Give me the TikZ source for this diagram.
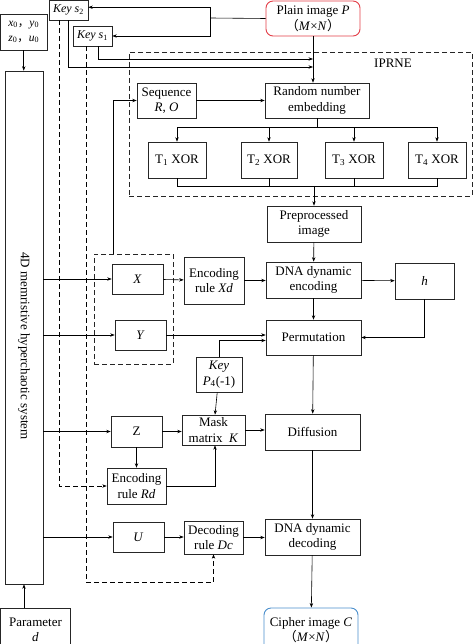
\documentclass[tikz,border=0pt]{standalone}
\usepackage{fontspec}
\setmainfont{Liberation Serif}
\newfontfamily\cjk{Noto Sans CJK SC}
\usepackage{tikz}
\usetikzlibrary{positioning}
\usetikzlibrary{arrows.meta}
\definecolor{plainred}{RGB}{226,62,72}
\definecolor{cipherblue}{RGB}{74,142,204}
\tikzset{
	>={Stealth[length=4.5pt,width=3.4pt]},
	blok/.style={
		rectangle,
		draw=black!85, line width=0.6pt,
		inner sep=1pt,
		align=center,
		font=\fontsize{13}{15.5}\selectfont},
	keyblok/.style={blok, font=\fontsize{12}{14}\selectfont},
	image/.style={blok, rounded corners=7pt, line width=0.9pt},
	link/.style={draw, line width=0.6pt},
	line/.style={link, ->},
	dline/.style={line, dash pattern=on 5pt off 3pt},
	group/.style={draw=black!85, line width=0.6pt, dash pattern=on 5pt off 3pt},
}

\begin{document}
\begin{tikzpicture}[x=1pt, y=-1pt]
	\useasboundingbox (0,0) rectangle (474,644);
	\clip (0,0) rectangle (474,644);
	% frames
	\node[group, minimum width=343pt, minimum height=144pt] (iprne) at (300.5,124) {};
	\node[blok, draw=none] (iprnelabel) at (393,63) {IPRNE};
	\node[group, minimum width=79pt, minimum height=110pt] (grp) at (133.5,309) {};
	% left column
	\node[keyblok, minimum width=47pt, minimum height=36pt, font=\fontsize{11.5}{15}\selectfont] (init) at (23.75,32) {\textit{x}\textsubscript{0}{\cjk ，}\textit{y}\textsubscript{0}\\\textit{z}\textsubscript{0}{\cjk ，}\textit{u}\textsubscript{0}};
	\node[blok, minimum width=38pt, minimum height=513pt] (chaos) at (24,327.5) {};
	\node[blok, draw=none, rotate=-90] (chaostext) at (24,346) {4D memristive hyperchaotic system};
	\node[blok, minimum width=70pt, minimum height=44pt] (param) at (35.5,630) {Parameter\\\textit{d}};
	\node[keyblok, minimum width=39pt, minimum height=19.5pt] (keytwo) at (68.5,10.25) {\textit{Key s}\textsubscript{2}};
	\node[keyblok, minimum width=39pt, minimum height=20pt] (keyone) at (92.5,36) {\textit{Key s}\textsubscript{1}};
	\node[image, draw=plainred, minimum width=94pt, minimum height=35pt] (plain) at (313,18.5) {Plain image \textit{P}\\{\cjk （}\textit{M}×\textit{N}{\cjk ）}};
	% IPRNE
	\node[blok, minimum width=59pt, minimum height=35pt] (seq) at (166.5,100.5) {Sequence\\\textit{R}, \textit{O}};
	\node[blok, minimum width=104pt, minimum height=35pt] (rand) at (317,100.5) {Random number\\embedding};
	\node[blok, minimum width=58pt, minimum height=36pt] (t1) at (177,160) {T\textsubscript{1} XOR};
	\node[blok, minimum width=56pt, minimum height=36pt] (t2) at (269,160) {T\textsubscript{2} XOR};
	\node[blok, minimum width=58pt, minimum height=36pt] (t3) at (354,160) {T\textsubscript{3} XOR};
	\node[blok, minimum width=58pt, minimum height=36pt] (t4) at (437,160) {T\textsubscript{4} XOR};
	% main column
	\node[blok, minimum width=94pt, minimum height=36pt] (pre) at (314,224) {Preprocessed\\image};
	\node[blok, minimum width=95pt, minimum height=36pt] (enc) at (313.5,280) {DNA dynamic\\encoding};
	\node[blok, minimum width=59pt, minimum height=36pt] (h) at (424.5,281) {\textit{h}};
	\node[blok, minimum width=95pt, minimum height=35pt] (perm) at (313.5,337.5) {Permutation};
	\node[blok, minimum width=95pt, minimum height=36pt] (diff) at (312.5,432) {Diffusion};
	\node[blok, minimum width=95pt, minimum height=36pt] (dec) at (312.5,537) {DNA dynamic\\decoding};
	\node[image, draw=cipherblue, minimum width=94pt, minimum height=44pt] (cipher) at (311,630) {Cipher image \textit{C}\\{\cjk （}\textit{M}×\textit{N}{\cjk ）}};
	% sequences
	\node[blok, minimum width=51pt, minimum height=30pt] (X) at (137.5,279) {\textit{X}};
	\node[blok, minimum width=51pt, minimum height=30pt] (Y) at (140.5,335) {\textit{Y}};
	\node[blok, minimum width=60pt, minimum height=47pt] (xd) at (214,280.5) {Encoding\\rule \textit{Xd}};
	\node[blok, minimum width=46pt, minimum height=35pt] (keyp) at (219,374.5) {\textit{Key}\\\textit{P}\textsubscript{4}(-1)};
	\node[blok, minimum width=51pt, minimum height=31pt] (Z) at (136.5,431.5) {Z};
	\node[blok, minimum width=63pt, minimum height=30pt] (mask) at (213.5,430) {Mask\\matrix~~\textit{K}};
	\node[blok, minimum width=59pt, minimum height=36pt] (rd) at (136.5,486) {Encoding\\rule \textit{Rd}};
	\node[blok, minimum width=51pt, minimum height=30pt] (U) at (138.5,537) {\textit{U}};
	\node[blok, minimum width=59pt, minimum height=33pt] (dc) at (213.5,537.5) {Decoding\\rule \textit{Dc}};
	% keys
	\coordinate (split) at (210,18);
	\coordinate (inone) at (313,59);
	\coordinate (intwo) at (313,67);
	\draw[link] (plain.west) -- (split);
	\draw[line] (split) |- ([yshift=3pt]keytwo.east);
	\draw[line] (split) |- (keyone.east);
	\draw[line] ([xshift=5.5pt]keyone.south) |- (inone);
	\draw[line] (keytwo.south) |- (intwo);
	\draw[line] (plain.south) -- (plain.south |- rand.north);
	\draw[dline] ([xshift=-9.5pt]keytwo.south) |- (rd.west);
	\draw[dline] ([xshift=-6.5pt]keyone.south) |- ([yshift=-28pt]dc.south) -| (dc.south);
	% IPRNE
	\draw[line] ([xshift=-20.5pt]grp.north) |- (seq.west);
	\draw[line] (seq) -- (rand);
	\draw[link] (rand.south) -- ++(0,9) coordinate (rb);
	\foreach \t in {t1,t2,t3,t4}
		\draw[line] (rb) -| (\t.north);
	\coordinate (tb) at (314,186);
	\foreach \t in {t1,t2,t3,t4}
		\draw[link] (\t.south) |- (tb);
	\draw[line] (tb) -- (pre.north);
	% main
	\draw[line] (init.south) -- (init.south |- chaos.north);
	\draw[line] (chaos.south |- param.north) -- (chaos.south);
	\draw[line] (pre) -- (enc);
	\draw[line] (enc) -- (h);
	\draw[line] (enc) -- (perm);
	\draw[line] (h.south) |- (perm.east);
	\draw[line] (chaos.east |- X.west) -- (X.west);
	\draw[line] (X) -- (xd);
	\draw[line] (xd.east) -- (xd.east -| enc.west);
	\draw[line] (chaos.east |- Y.west) -- (Y.west);
	\draw[line] (Y.east) -- (Y.east -| perm.west);
	\draw[line] (keyp.north) |- ([yshift=-3pt]perm.west);
	\draw[line] (keyp) -- (mask);
	\draw[line] (chaos.east |- Z.west) -- (Z.west);
	\draw[line] (Z.east) -- (Z.east -| mask.west);
	\draw[line] (mask.east) -- (mask.east -| diff.west);
	\draw[line] (Z) -- (rd);
	\draw[line] (rd.east) -| ([xshift=1.5pt]mask.south);
	\draw[line] (perm) -- (diff);
	\draw[line] (diff) -- (dec);
	\draw[line] (chaos.east |- U.west) -- (U.west);
	\draw[line] (U.east) -- (U.east -| dc.west);
	\draw[line] (dc.east) -- (dc.east -| dec.west);
	\draw[line] (dec) -- (cipher);
\end{tikzpicture}
\end{document}
